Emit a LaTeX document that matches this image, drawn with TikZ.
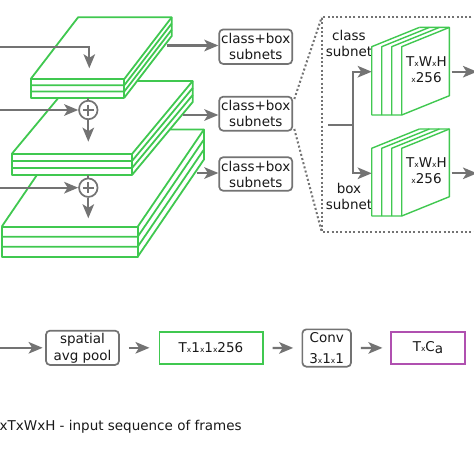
\documentclass[tikz,border=0pt]{standalone}
\usepackage{fontspec}
\setmainfont{DejaVu Sans}
\usetikzlibrary{arrows.meta}
\definecolor{grn}{RGB}{64,200,80}
\definecolor{gry}{RGB}{115,115,115}
\definecolor{prp}{RGB}{176,80,176}
\definecolor{txt}{RGB}{25,25,25}
\newcommand\sx{{\fontsize{7.5}{7.5}\selectfont x}}
\tikzset{
  slabline/.style={draw=grn,line width=1.8pt,line join=round},
  mapline/.style={draw=grn,line width=1.4pt,line join=round},
  arr/.style={draw=gry,line width=2.3pt,-{Stealth[length=14pt,width=11.5pt,inset=3.5pt]}},
  plainln/.style={draw=gry,line width=2.3pt},
  rbox/.style={draw=gry,line width=1.7pt,rounded corners=4pt,fill=white,align=center,text=txt,inner sep=0pt},
  dotln/.style={draw=gry,line width=2pt,dash pattern=on 2pt off 2.3pt},
  lbl/.style={align=center,text=txt,inner sep=0pt}
}
\newcommand\slab[6]{%
 \fill[white] (#1,#2) -- ({#1+#5},{#2-#6}) -- ({#1+#3+#5},{#2-#6}) -- ({#1+#3+#5},{#2-#6+#4}) -- ({#1+#3},{#2+#4}) -- (#1,{#2+#4}) -- cycle;
 \draw[slabline] (#1,#2) -- ({#1+#5},{#2-#6}) -- ({#1+#3+#5},{#2-#6}) -- ({#1+#3+#5},{#2-#6+#4}) -- ({#1+#3},{#2+#4});
 \draw[slabline] (#1,#2) rectangle ({#1+#3},{#2+#4});
 \foreach \k in {1,2}{\draw[slabline] (#1,{#2+\k*#4/3}) -- ({#1+#3},{#2+\k*#4/3}) -- ({#1+#3+#5},{#2-#6+\k*#4/3});}
 \draw[slabline] ({#1+#3},#2) -- ({#1+#3+#5},{#2-#6});
}
\newcommand\fmap[3]{%
 \fill[white] (#1,#2) -- ({#1+47.7},{#2-19.3}) -- ({#1+77.7},{#2-19.3}) -- ({#1+77.7},{#3-19.3}) -- ({#1+30},#3) -- (#1,#3) -- cycle;
 \foreach \k in {0,1,2,3}{\draw[mapline] ({#1+\k*10},#3) -- ({#1+\k*10},#2) -- ({#1+\k*10+47.7},{#2-19.3});}
 \draw[mapline] (#1,#3) -- ({#1+30},#3) -- ({#1+77.7},{#3-19.3}) -- ({#1+77.7},{#2-19.3}) -- ({#1+47.7},{#2-19.3});
}
\begin{document}
\begin{tikzpicture}[x=1pt,y=-1pt,font=\fontsize{13.5}{16}\selectfont]
\useasboundingbox (0,0) rectangle (474,474);
\fill[white] (0,0) rectangle (474,474);
\clip (0,0) rectangle (474,474);

% pyramid slabs
\slab{1.7}{226.7}{136}{30}{66.3}{97.3}
\slab{11.7}{154}{120.3}{21}{60.7}{73}
\slab{30.7}{79}{93.6}{18.7}{47.4}{61.7}

% merge circles
\node[circle,draw=gry,line width=1.7pt,minimum size=18.5pt,inner sep=0pt,fill=white] (p1) at (88.3,110) {};
\node[circle,draw=gry,line width=1.7pt,minimum size=18.5pt,inner sep=0pt,fill=white] (p2) at (88.3,187.7) {};
\draw[gry,line width=1.7pt] (p1.center) +(-5.5,0) -- +(5.5,0) (p1.center) +(0,-5.5) -- +(0,5.5);
\draw[gry,line width=1.7pt] (p2.center) +(-5.5,0) -- +(5.5,0) (p2.center) +(0,-5.5) -- +(0,5.5);

\coordinate (l1) at (-5,46.7);
\coordinate (t1) at (89.3,68.3);
\coordinate (l2) at (-5,110);
\coordinate (l3) at (-5,187.7);
\coordinate (s1b) at (88.3,97.7);
\coordinate (s2b) at (88.3,175);
\coordinate (d1) at (88.3,141.7);
\coordinate (d2) at (88.3,218.3);
\draw[arr] (l1) -| (t1);
\draw[arr] (l2) -- (p1.west);
\draw[arr] (l3) -- (p2.west);
\draw[plainln] (s1b) -- (p1.north);
\draw[plainln] (s2b) -- (p2.north);
\draw[arr] (p1.south) -- (d1);
\draw[arr] (p2.south) -- (d2);

% class+box boxes
\node[rbox,minimum width=73pt,minimum height=34.5pt] (b1) at (255.7,46.7) {class+box\\subnets};
\node[rbox,minimum width=73pt,minimum height=34pt] (b2) at (255.7,113.7) {class+box\\subnets};
\node[rbox,minimum width=73pt,minimum height=33.5pt] (b3) at (255.7,174) {class+box\\subnets};
\coordinate (r1) at (166.5,45.5);
\coordinate (r2) at (183,115);
\coordinate (r3) at (196.7,173);
\draw[arr] (r1) -- (r1 -| b1.west);
\draw[arr] (r2) -- (r2 -| b2.west);
\draw[arr] (r3) -- (r3 -| b3.west);

% expansion
\coordinate (e1) at (294.3,99);
\coordinate (e2) at (294.3,129);
\coordinate (rt) at (321.7,17.3);
\coordinate (rb) at (321.7,231.7);
\coordinate (rtr) at (480,17.3);
\coordinate (rbr) at (480,231.7);
\draw[dotln] (e1) -- (rt);
\draw[dotln] (e2) -- (rb);
\draw[dotln] (rtr) -- (rt) -- (rb) -- (rbr);

\node[lbl] (cs) at (349,43.3) {class\\[0.6pt]subnet};
\node[lbl] (bsn) at (349,196.5) {box\\[0.6pt]subnet};

\fmap{371.7}{46.7}{115}
\fmap{371.7}{148.3}{216}
\node[lbl] (m1) at (426.5,69.7) {T\sx W\sx H\\\sx256};
\node[lbl] (m2) at (426.5,171) {T\sx W\sx H\\\sx256};

\coordinate (bs) at (328.3,125);
\coordinate (bj) at (352.7,125);
\coordinate (f1) at (371.7,71.7);
\coordinate (f2) at (371.7,173.3);
\draw[plainln] (bs) -- (bj);
\draw[arr] (bj) |- (f1);
\draw[arr] (bj) |- (f2);
\coordinate (o1) at (451.7,71.7);
\coordinate (o2) at (451.7,173.3);
\coordinate (o1e) at (477,71.7);
\coordinate (o2e) at (477,173.3);
\draw[arr] (o1) -- (o1e);
\draw[arr] (o2) -- (o2e);

% bottom row
\coordinate (l4) at (-5,347.8);
\node[rbox,minimum width=73pt,minimum height=34.3pt] (sp) at (82.5,347.8) {spatial\\[1pt]avg pool};
\node[draw=grn,line width=1.7pt,minimum width=103.3pt,minimum height=32.3pt,text=txt,inner sep=0pt] (g) at (211,347.8) {T\sx1\sx1\sx256};
\node[rbox,minimum width=48.7pt,minimum height=37.3pt] (cv) at (326.7,348) {Conv\\[5pt]3\sx1\sx1};
\node[draw=prp,line width=1.7pt,minimum width=74pt,minimum height=32.3pt,text=txt,inner sep=0pt] (pu) at (428,347.8) {T\sx C\raisebox{-2.5pt}{a}};
\draw[arr,shorten >=2.5pt] (l4) -- (sp.west);
\draw[arr,shorten <=9pt,shorten >=9pt] (sp) -- (g);
\draw[arr,shorten <=9pt,shorten >=8.3pt] (g) -- (cv);
\draw[arr,shorten <=9pt,shorten >=7.7pt] (cv) -- (pu);

\node[lbl,anchor=west] (cap) at (-0.5,427) {xTxWxH - input sequence of frames};
\end{tikzpicture}
\end{document}
